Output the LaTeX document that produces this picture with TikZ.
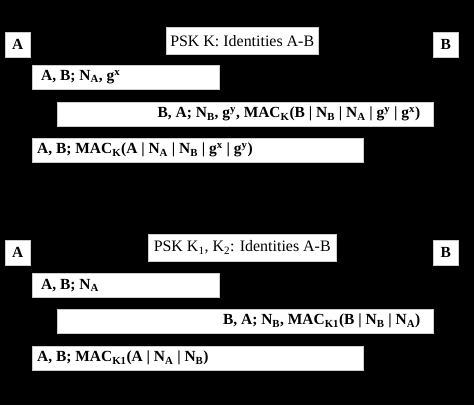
\documentclass[tikz,border=0pt]{standalone}
\usepackage{fontspec}
\setmainfont{Liberation Serif}
\usetikzlibrary{positioning}
\tikzset{party/.style={rectangle,fill=white,draw=gray!40,minimum size=25bp,inner sep=0pt,font=\fontsize{15.5}{17}\selectfont\bfseries,anchor=north west},
         title/.style={rectangle,fill=white,draw=gray!40,minimum height=27bp,inner sep=0pt,font=\fontsize{16}{18}\selectfont,anchor=north west},
         msg/.style={rectangle,fill=white,draw=gray!40,minimum height=24bp,inner ysep=0pt,font=\fontsize{15.5}{17}\selectfont\bfseries,anchor=north west}
}

\begin{document}
\begin{tikzpicture}[x=1bp,y=-1bp]
\fill[black] (0,0) rectangle (474,405);
\useasboundingbox (0,0) rectangle (474,405);

% first exchange: PSK K
\node [party] (A1) at (5,32) {A};
\node [party] (B1) at (433,32) {B};
\node [title, minimum width=152bp] (psk1) at (166,27) {PSK K: Identities A-B};
\node [msg, text width=169bp, inner xsep=9bp, align=flush left] (m11) at (32,65)
    {A, B; N\textsubscript{A}, g\textsuperscript{x}};
\node [msg, text width=350bp, inner xsep=13bp, align=flush right] (m12) at (57,102)
    {B, A; N\textsubscript{B}, g\textsuperscript{y}, MAC\textsubscript{K}(B | N\textsubscript{B} | N\textsubscript{A} | g\textsuperscript{y} | g\textsuperscript{x})};
\node [msg, text width=321bp, inner xsep=5bp, align=flush left] (m13) at (32,138)
    {A, B; MAC\textsubscript{K}(A | N\textsubscript{A} | N\textsubscript{B} | g\textsuperscript{x} | g\textsuperscript{y})};

% second exchange: PSK K1, K2
\node [party] (A2) at (5,240) {A};
\node [party] (B2) at (433,240) {B};
\node [title, minimum width=188bp] (psk2) at (148,234) {PSK K\textsubscript{1}, K\textsubscript{2}: Identities A-B};
\node [msg, text width=169bp, inner xsep=9bp, align=flush left] (m21) at (32,273)
    {A, B; N\textsubscript{A}};
\node [msg, text width=350bp, inner xsep=13bp, align=flush right] (m22) at (57,309)
    {B, A; N\textsubscript{B}, MAC\textsubscript{K1}(B | N\textsubscript{B} | N\textsubscript{A})};
\node [msg, text width=321bp, inner xsep=5bp, align=flush left] (m23) at (32,346)
    {A, B; MAC\textsubscript{K1}(A | N\textsubscript{A} | N\textsubscript{B})};
\end{tikzpicture}
\end{document}
